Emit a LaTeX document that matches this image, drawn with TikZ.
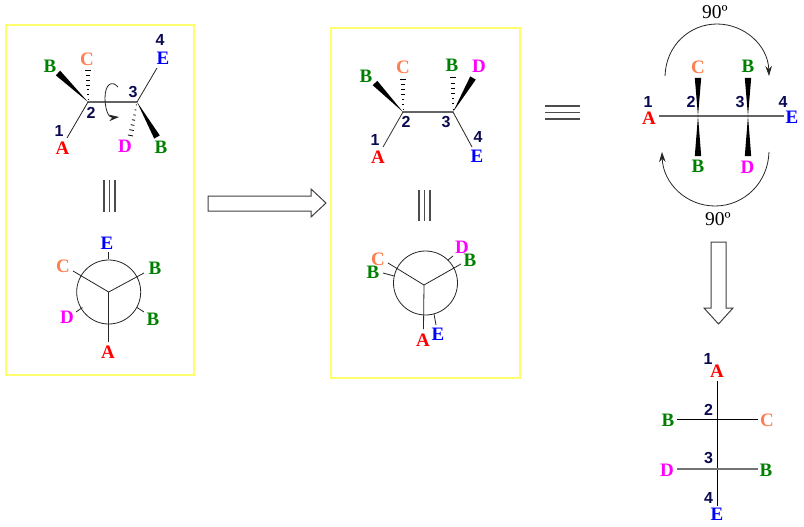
\documentclass[tikz,border=0pt]{standalone}
\usepackage{fontspec}
\setmainfont{Liberation Serif}
\newfontfamily\numfont{Liberation Sans}
\usetikzlibrary{calc,arrows.meta}
\definecolor{cA}{RGB}{255,0,0}
\definecolor{cB}{RGB}{0,128,0}
\definecolor{cC}{RGB}{255,127,80}
\definecolor{cD}{RGB}{255,0,255}
\definecolor{cE}{RGB}{0,0,255}
\definecolor{cN}{RGB}{10,10,80}
\definecolor{panel}{RGB}{255,255,110}
\definecolor{bondgray}{RGB}{100,100,100}
\newcommand{\wedgebond}[2]{\fill (#1) -- ($(#2)!3.2pt!90:(#1)$) -- ($(#2)!3.2pt!-90:(#1)$) -- cycle;}
\newcommand{\hashbond}[2]{\foreach \t/\w in {0.08/0.5,0.22/0.9,0.36/1.2,0.50/1.6,0.64/1.9,0.78/2.3,0.93/2.7}{\draw[line width=0.8pt] ($(#1)!\t!(#2)!\w pt!90:(#2)$) -- ($(#1)!\t!(#2)!\w pt!-90:(#2)$);}}
\tikzset{
 atom/.style={inner sep=0pt,font=\fontsize{19}{19}\selectfont\bfseries},
 num/.style={inner sep=0pt,text=cN,font=\fontsize{16}{16}\selectfont\numfont\bfseries},
 bond/.style={line width=0.8pt,black!85},
 cc/.style={line width=1.3pt,bondgray},
 panelbox/.style={draw=panel,line width=1.2pt},
 blockarrow/.style={draw=black!75,line width=1pt,fill=white,line join=miter},
 eqline/.style={line width=1.1pt,black!70},
 curvearrow/.style={line width=0.8pt,black!85,-{Stealth[length=10pt,width=6.5pt]}},
 ring/.style={draw=black!85,line width=0.8pt,circle,minimum size=64pt,inner sep=0pt},
 deg/.style={inner sep=0pt,font=\fontsize{19.5}{20}\selectfont}
}
\begin{document}
\begin{tikzpicture}[x=1pt,y=-1pt]
\useasboundingbox (0,0) rectangle (804,527);
\fill[white] (0,0) rectangle (804,527);

% panels
\node[panelbox,minimum width=188pt,minimum height=350pt,inner sep=0pt] (panelL) at (100,200) {};
\node[panelbox,minimum width=189pt,minimum height=350pt,inner sep=0pt] (panelM) at (425.5,203) {};

% --- left sawhorse
\coordinate (l2) at (88,102); \coordinate (l3) at (137,102);
\coordinate (lBe) at (58,73); \coordinate (lCe) at (88,68); \coordinate (lAe) at (67,138);
\coordinate (lEe) at (157,68); \coordinate (lB2e) at (157,137); \coordinate (lDe) at (130,138);
\node[atom,text=cB] (lB) at (50,66) {B};
\node[atom,text=cC] (lC) at (87,59) {C};
\node[atom,text=cE] (lE) at (163,58) {E};
\node[atom,text=cA] (lA) at (62.5,148) {A};
\node[atom,text=cD] (lD) at (125,146.5) {D};
\node[atom,text=cB] (lB2) at (161,147) {B};
\node[num] (ln1) at (59,131) {1};
\node[num] (ln2) at (91,113) {2};
\node[num] (ln3) at (133,92) {3};
\node[num] (ln4) at (160,40) {4};
\draw[cc] (l2) -- (l3);
\draw[bond] (l2) -- (lAe);
\draw[bond] (l3) -- (lEe);
\wedgebond{l2}{lBe}
\wedgebond{l3}{lB2e}
\hashbond{l2}{lCe}
\hashbond{l3}{lDe}
\coordinate (rotS) at (118,87); \coordinate (rotE) at (119,117);
\draw[curvearrow] (rotS) .. controls (112,80) and (105,84) .. (105,98) .. controls (105,108) and (108,118) .. (rotE);

% left triple
\foreach \x/\n in {104/a,109.5/b,115/c}{\coordinate (lt\n1) at (\x,180); \coordinate (lt\n2) at (\x,212); \draw[eqline] (lt\n1) -- (lt\n2);}

% --- left Newman
\coordinate (nlc) at (108.7,292);
\node[ring] (nlr) at (nlc) {};
\coordinate (nlA) at (108.7,342); \coordinate (nlC) at (73,271); \coordinate (nlB) at (144,273);
\coordinate (nlE1) at (108,252); \coordinate (nlE2) at (108,259);
\coordinate (nlD1) at (76,312); \coordinate (nlD2) at (82.5,307.5);
\coordinate (nlB1) at (144,312); \coordinate (nlB2) at (137,307.5);
\draw[bond] (nlc) -- (nlA); \draw[bond] (nlc) -- (nlC); \draw[bond] (nlc) -- (nlB);
\draw[bond] (nlE1) -- (nlE2); \draw[bond] (nlD1) -- (nlD2); \draw[bond] (nlB1) -- (nlB2);
\node[atom,text=cE] at (107,243) {E};
\node[atom,text=cC] at (63,266) {C};
\node[atom,text=cB] at (155,268) {B};
\node[atom,text=cD] at (67,317) {D};
\node[atom,text=cB] at (153,319) {B};
\node[atom,text=cA] at (108,352) {A};

% --- block arrows
\coordinate (ra) at (208,196);
\draw[blockarrow] (ra) -- (311,196) -- (311,189) -- (326,203) -- (311,217) -- (311,211) -- (208,211) -- cycle;
\coordinate (da) at (711,242);
\draw[blockarrow] (da) -- (726,242) -- (726,308) -- (733,308) -- (718.5,324) -- (704,308) -- (711,308) -- cycle;

% --- middle sawhorse
\coordinate (m2) at (403,112); \coordinate (m3) at (453,112);
\coordinate (mBe) at (375,83); \coordinate (mCe) at (403,77); \coordinate (mAe) at (383,147);
\coordinate (mEe) at (472,147); \coordinate (mB2e) at (453,75); \coordinate (mDe) at (473,78);
\node[atom,text=cB] at (366,76) {B};
\node[atom,text=cC] at (403,67) {C};
\node[atom,text=cB] at (452,65) {B};
\node[atom,text=cD] at (479,66.5) {D};
\node[atom,text=cA] at (378,157) {A};
\node[atom,text=cE] at (477,156) {E};
\node[num] at (406,122) {2};
\node[num] at (446,122) {3};
\node[num] at (375,140) {1};
\node[num] at (478,137) {4};
\draw[cc] (m2) -- (m3);
\draw[bond] (m2) -- (mAe);
\draw[bond] (m3) -- (mEe);
\wedgebond{m2}{mBe}
\wedgebond{m3}{mDe}
\hashbond{m2}{mCe}
\hashbond{m3}{mB2e}

% middle triple
\foreach \x/\n in {419/a,424.7/b,430/c}{\coordinate (mt\n1) at (\x,190); \coordinate (mt\n2) at (\x,221); \draw[eqline] (mt\n1) -- (mt\n2);}

% --- middle Newman
\coordinate (nmc) at (425.5,283);
\coordinate (nmcb) at (424,285);
\node[ring] (nmr) at (nmc) {};
\coordinate (nmA) at (423.5,329); \coordinate (nmC) at (388,263); \coordinate (nmB) at (461,264);
\coordinate (nmB1) at (383,273); \coordinate (nmB2) at (394,276);
\coordinate (nmD1) at (453,256); \coordinate (nmD2) at (448,260);
\coordinate (nmE1) at (434,314); \coordinate (nmE2) at (436,325);
\draw[bond] (nmcb) -- (nmA); \draw[bond] (nmcb) -- (nmC); \draw[bond] (nmcb) -- (nmB);
\draw[bond] (nmB1) -- (nmB2); \draw[bond] (nmD1) -- (nmD2); \draw[bond] (nmE1) -- (nmE2);
\node[atom,text=cC] at (378,259) {C};
\node[atom,text=cB] at (373,272) {B};
\node[atom,text=cD] at (462,247) {D};
\node[atom,text=cB] at (470,260) {B};
\node[atom,text=cA] at (423,340) {A};
\node[atom,text=cE] at (438,334) {E};

% equivalence
\foreach \y/\n in {106/a,112.5/b,119/c}{\coordinate (e\n1) at (545,\y); \coordinate (e\n2) at (580,\y); \draw[eqline] (e\n1) -- (e\n2);}

% --- right projection
\coordinate (rL) at (659,116); \coordinate (rR) at (784,116);
\coordinate (r2) at (698,116); \coordinate (r3) at (748,116);
\coordinate (r2t) at (698,78); \coordinate (r2b) at (698,156);
\coordinate (r3t) at (748,78); \coordinate (r3b) at (748,156);
\draw[cc,line width=1.1pt] (rL) -- (rR);
\wedgebond{r2}{r2t}
\wedgebond{r2}{r2b}
\wedgebond{r3}{r3t}
\wedgebond{r3}{r3b}
\node[atom,text=cC] at (698,67) {C};
\node[atom,text=cB] at (748,66) {B};
\node[atom,text=cB] at (698,166) {B};
\node[atom,text=cD] at (747.5,167) {D};
\node[atom,text=cA] at (649,118) {A};
\node[atom,text=cE] at (792,117) {E};
\node[num] at (648,102) {1};
\node[num] at (691,102) {2};
\node[num] at (740,102) {3};
\node[num] at (783,102) {4};
\coordinate (atS) at (665,76); \coordinate (atE) at (769,76);
\coordinate (abS) at (769,152); \coordinate (abE) at (662,152);
\draw[curvearrow] (atS) .. controls (666,45) and (690,24) .. (717,24) .. controls (744,24) and (768,45) .. (atE);
\draw[curvearrow] (abS) .. controls (768,183) and (744,206) .. (715,206) .. controls (686,206) and (663,183) .. (abE);
\node[deg] at (715,12) {90º};
\node[deg] at (718,219) {90º};

% --- Fischer
\coordinate (fT) at (717.7,381); \coordinate (fB) at (717.7,506);
\coordinate (f1L) at (677,419); \coordinate (f1R) at (758,419);
\coordinate (f2L) at (677,469); \coordinate (f2R) at (758,469);
\draw[bond,black] (fT) -- (fB);
\draw[bond,black] (f1L) -- (f1R);
\draw[cc,line width=1.1pt,black!55] (f2L) -- (f2R);
\node[atom,text=cA] at (717,371) {A};
\node[atom,text=cB] at (668,420) {B};
\node[atom,text=cC] at (767,420) {C};
\node[atom,text=cD] at (667,470) {D};
\node[atom,text=cB] at (766,470) {B};
\node[atom,text=cE] at (717,514) {E};
\node[num] at (708,359) {1};
\node[num] at (708.5,410) {2};
\node[num] at (708.5,458) {3};
\node[num] at (708.5,497.5) {4};
\end{tikzpicture}
\end{document}
